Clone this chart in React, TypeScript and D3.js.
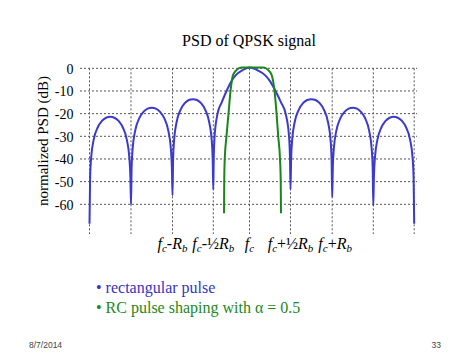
import React from "react";
import * as d3 from "d3";

// frequency in units of R_b relative to f_c
const gridFreq = [-2, -1.5, -1, -0.5, 0, 0.5, 1, 1.5, 2];
const dbTicks = [0, -10, -20, -30, -40, -50, -60];
const tickFreq = [-1, -0.5, 0, 0.5, 1];
const tickOp = ["-", "-½", "", "+½", "+"];

// rectangular pulse PSD (dB)
const rectFreq = [
  -2, -1.9925, -1.98, -1.95, -1.9, -1.85, -1.8, -1.75, -1.7, -1.65, -1.6, -1.55, -1.52, -1.5075,
  -1.5, -1.4925, -1.48, -1.45, -1.4, -1.35, -1.3, -1.25, -1.2, -1.15, -1.1, -1.05, -1.02, -1.0075,
  -1, -0.9925, -0.98, -0.95, -0.9, -0.85, -0.8, -0.75, -0.7, -0.65, -0.6, -0.55, -0.52, -0.5075,
  -0.5, -0.494, -0.482, -0.441, -0.384, -0.317, -0.256, -0.189, -0.104, 0, 0.104, 0.189, 0.256, 0.317, 0.384, 0.441, 0.482, 0.494,
  0.5, 0.5075, 0.52, 0.55, 0.6, 0.65, 0.7, 0.75, 0.8, 0.85, 0.9, 0.95, 0.98, 0.9925,
  1, 1.0075, 1.02, 1.05, 1.1, 1.15, 1.2, 1.25, 1.3, 1.35, 1.4, 1.45, 1.48, 1.4925,
  1.5, 1.5075, 1.52, 1.55, 1.6, 1.65, 1.7, 1.75, 1.8, 1.85, 1.9, 1.95, 1.98, 1.9925, 2,
];
const rectDb = [
  -68.6, -47.9, -39.4, -31.6, -26.0, -23.2, -21.8, -21.4, -21.8, -23.2, -26.0, -31.6, -39.4, -47.9,
  -60, -43.9, -35.4, -27.6, -22.0, -19.2, -17.8, -17.4, -17.8, -19.2, -22.0, -27.6, -35.4, -43.9,
  -56, -40.1, -31.6, -23.8, -18.2, -15.4, -14.0, -13.6, -14.0, -15.4, -18.2, -23.8, -31.6, -40.1,
  -53.5, -40, -30, -20, -15, -10, -6, -3, -1, 0.3, -1, -3, -6, -10, -15, -20, -30, -40,
  -53.5, -40.1, -31.6, -23.8, -18.2, -15.4, -14.0, -13.6, -14.0, -15.4, -18.2, -23.8, -31.6, -40.1,
  -56.8, -43.9, -35.4, -27.6, -22.0, -19.2, -17.8, -17.4, -17.8, -19.2, -22.0, -27.6, -35.4, -43.9,
  -60.5, -47.9, -39.4, -31.6, -26.0, -23.2, -21.8, -21.4, -21.8, -23.2, -26.0, -31.6, -39.4, -47.9, -68.6,
];

// raised-cosine (alpha = 0.5) PSD (dB)
const rcFreq = [-0.352, -0.349, -0.342, -0.318, -0.29, -0.262, -0.228, -0.18, -0.11, 0.168, 0.229, 0.271, 0.305, 0.33, 0.35, 0.372, 0.381, 0.384];
const rcDb = [-64, -50, -40, -30, -20, -10, -3, -0.8, 0.3, 0.3, -0.8, -3, -10, -20, -30, -40, -50, -64];

const BLUE = "#3a3ad0";
const GREEN = "#1a861a";

export default function App() {
  const x = d3
    .scaleLinear()
    .domain(gridFreq)
    .range([89.5, 131, 172.5, 213.3, 249.5, 290.5, 332.2, 373.3, 414.2]);
  const y = d3.scaleLinear().domain([0, -60]).range([68.3, 204.3]);

  const line = d3
    .line<[number, number]>()
    .x((d) => x(d[0]))
    .y((d) => y(d[1]))
    .curve(d3.curveMonotoneX);

  const rectPts = rectFreq.map((f, i) => [f, rectDb[i]] as [number, number]);
  const rcPts = rcFreq.map((f, i) => [f, rcDb[i]] as [number, number]);

  const serif = "'Liberation Serif', 'Times New Roman', serif";
  const sans = "'Liberation Sans', Arial, sans-serif";
  const gridColor = "#555";

  return (
    <svg
      width={474}
      height={355}
      style={{ position: "absolute", left: 0, top: 0, background: "#fff" }}
      fontFamily={serif}
    >
      <rect x={0} y={0} width={474} height={355} fill="#fff" />
      <text x={249} y={46} textAnchor="middle" fontSize={16} fill="#000">
        PSD of QPSK signal
      </text>

      {/* grid */}
      {dbTicks.map((d) => (
        <line
          key={"h" + d}
          x1={80}
          x2={417}
          y1={y(d)}
          y2={y(d)}
          stroke={gridColor}
          strokeWidth={1}
          strokeDasharray="2,2"
        />
      ))}
      {gridFreq.map((f) => (
        <line
          key={"v" + f}
          x1={x(f)}
          x2={x(f)}
          y1={y(0)}
          y2={234}
          stroke={gridColor}
          strokeWidth={1}
          strokeDasharray="2,2"
        />
      ))}

      {/* y tick labels */}
      {dbTicks.map((d) => (
        <text key={"t" + d} x={73.5} y={y(d) + 5.5} textAnchor="end" fontSize={14} fill="#000">
          {d === 0 ? "0" : "-" + Math.abs(d)}
        </text>
      ))}
      <text
        transform={`translate(48,${141}) rotate(-90)`}
        textAnchor="middle"
        fontSize={15}
        fill="#000"
      >
        normalized PSD (dB)
      </text>

      {/* x tick labels */}
      {tickFreq.map((f, i) => (
        <text key={"x" + f} x={x(f) + (f === 1 ? 3 : 0)} y={248.5} textAnchor="middle" fontSize={16} fill="#000">
          <tspan fontStyle="italic">f</tspan>
          <tspan fontStyle="italic" fontSize={11} dy={3}>c</tspan>
          {tickOp[i] !== "" && (
            <>
              <tspan dy={-3}>{tickOp[i]}</tspan>
              <tspan fontStyle="italic">R</tspan>
              <tspan fontStyle="italic" fontSize={11} dy={3}>b</tspan>
            </>
          )}
        </text>
      ))}

      {/* curves */}
      <path d={line(rectPts) || ""} fill="none" stroke={BLUE} strokeWidth={2} />
      <path d={line(rcPts) || ""} fill="none" stroke={GREEN} strokeWidth={2} />

      {/* legend */}
      <text x={96} y={293} fontSize={16} fill="#3535c0">
        • rectangular pulse
      </text>
      <text x={96} y={313} fontSize={16} fill="#228822">
        • RC pulse shaping with α = 0.5
      </text>

      {/* footer */}
      <text x={29} y={348} fontSize={8.5} fill="#444" fontFamily={sans}>
        8/7/2014
      </text>
      <text x={441} y={348} textAnchor="end" fontSize={8.5} fill="#444" fontFamily={sans}>
        33
      </text>
    </svg>
  );
}
